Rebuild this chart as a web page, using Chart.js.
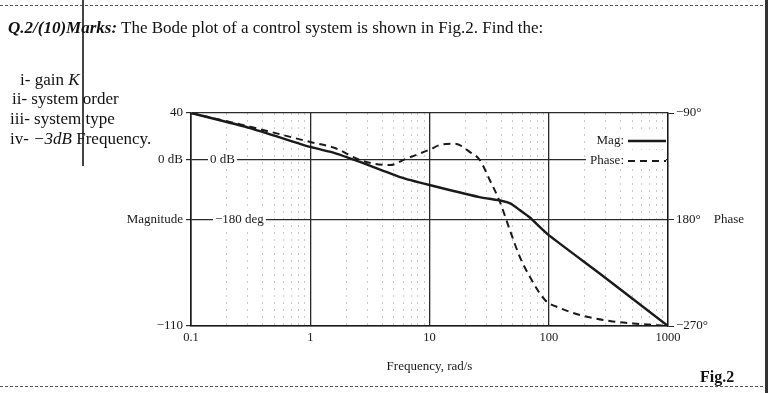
<!DOCTYPE html>
<html>
<head>
<meta charset="utf-8">
<script src="https://cdn.jsdelivr.net/npm/chart.js@4.4.1/dist/chart.umd.min.js"></script>
<style>
  html, body { margin: 0; padding: 0; background: #fff; }
  #page { position: relative; width: 773px; height: 393px; overflow: hidden;
          font-family: "Liberation Serif", "Times New Roman", serif; color: #111; }
  #chartBox { position: absolute; left: 0; top: 0; width: 773px; height: 393px; }
  .txt { position: absolute; white-space: nowrap; font-size: 17px; line-height: 1; }
  .rule { position: absolute; left: 0; width: 768px; border-top: 1px dashed #555; }
  .vline { position: absolute; background: #444; }
</style>
</head>
<body>
<div id="page">
  <div id="chartBox"><canvas id="bode"></canvas></div>

  <div class="rule" style="top:5px"></div>
  <div class="rule" style="top:386px"></div>
  <div class="vline" style="left:82px; top:0; width:1.5px; height:166px"></div>
  <div class="vline" style="left:765px; top:0; width:3px; height:393px; background:#333"></div>

  <div class="txt" style="left:8px; top:19px"><b><i>Q.2/(10)Marks:</i></b> The Bode plot of a control system is shown in Fig.2. Find the:</div>
  <div class="txt" style="left:20px; top:71px">i- gain <i>K</i></div>
  <div class="txt" style="left:12px; top:90px">ii- system order</div>
  <div class="txt" style="left:10px; top:110px">iii- system type</div>
  <div class="txt" style="left:10px; top:130px">iv- <i>&minus;3dB</i> Frequency.</div>
  <div class="txt" style="left:700px; top:369px; font-size:16px"><b>Fig.2</b></div>
</div>

<script>
// tick labels
const freqTicks = [0.1, 1, 10, 100, 1000];
const freqTickLabels = ['0.1', '1', '10', '100', '1000'];
const magTicks = [40, 7, -35, -110];
const magTickLabels = ['40', '0 dB', 'Magnitude', '\u2212110'];
const phaseTicks = [-90, -180, -270];
const phaseTickLabels = ['\u221290\u00b0', '180\u00b0    Phase', '\u2212270\u00b0'];

// magnitude curve (dB)
const magFreq = [0.1, 0.313, 1, 1.61, 2.61, 5.66, 10, 26.2, 40, 48, 57, 69.4, 100, 264, 1000];
const magDb = [40, 29.4, 16.1, 11.8, 5.5, -5.1, -10.7, -19.2, -21.8, -23.8, -28.3, -33.6, -46, -72.7, -110];

// phase curve (deg)
const phaseFreq = [0.1, 0.313, 1, 1.61, 2.61, 3.5, 4.67, 6.25, 10, 12.3, 16.4, 21.8, 26.4, 32, 38.9, 47.2, 57.3, 69.6, 93, 124, 183, 325, 580, 1000];
const phaseDeg = [-90, -101.6, -114.5, -119.6, -129.7, -133, -134, -129, -121, -117, -116, -123, -129.7, -146.6, -165, -189, -211.7, -228.6, -248, -254.8, -260.7, -265.8, -268.3, -270];

const INK = '#1a1a1a';
const FONT = '"Liberation Serif", "Times New Roman", serif';

const isDecade = v => Math.abs(Math.log10(v) - Math.round(Math.log10(v))) < 1e-6;

// inner labels on the grid lines + small legend box
const extras = {
    id: 'extras',
    beforeDatasetsDraw(chart) {
        const { ctx, chartArea, scales } = chart;
        ctx.save();
        ctx.font = '13px ' + FONT;
        ctx.textBaseline = 'middle';
        const items = [
            { text: '0 dB', x: chartArea.left + 19, y: scales.mag.getPixelForValue(magTicks[1]) },
            { text: '\u2212180 deg', x: chartArea.left + 24, y: scales.phase.getPixelForValue(phaseTicks[1]) }
        ];
        items.forEach(it => {
            const w = ctx.measureText(it.text).width;
            ctx.fillStyle = '#fff';
            ctx.fillRect(it.x - 2, it.y - 8, w + 4, 16);
            ctx.fillStyle = INK;
            ctx.fillText(it.text, it.x, it.y);
        });
        ctx.restore();
    },
    afterDatasetsDraw(chart) {
        const { ctx, chartArea } = chart;
        const right = chartArea.right - 2;
        ctx.save();
        ctx.font = '13px ' + FONT;
        ctx.textBaseline = 'middle';
        ctx.textAlign = 'right';
        chart.data.datasets.forEach((ds, i) => {
            const y = chartArea.top + 28 + i * 20;
            const text = ds.label + ':';
            const w = ctx.measureText(text).width;
            ctx.fillStyle = '#fff';
            ctx.fillRect(right - 42 - w - 4, y - 8, w + 46, 16);
            ctx.fillStyle = INK;
            ctx.fillText(text, right - 42, y);
            ctx.beginPath();
            ctx.setLineDash(ds.borderDash || []);
            ctx.lineWidth = ds.borderWidth;
            ctx.strokeStyle = ds.borderColor;
            ctx.moveTo(right - 38, y);
            ctx.lineTo(right, y);
            ctx.stroke();
        });
        ctx.restore();
    }
};

new Chart(document.getElementById('bode'), {
    type: 'line',
    data: {
        datasets: [{
            label: 'Mag',
            data: magFreq.map((f, i) => ({ x: f, y: magDb[i] })),
            yAxisID: 'mag',
            borderColor: INK,
            borderWidth: 2.4,
            pointRadius: 0,
            tension: 0.15
        }, {
            label: 'Phase',
            data: phaseFreq.map((f, i) => ({ x: f, y: phaseDeg[i] })),
            yAxisID: 'phase',
            borderColor: INK,
            borderWidth: 2,
            borderDash: [7, 5],
            pointRadius: 0,
            cubicInterpolationMode: 'monotone'
        }]
    },
    options: {
        responsive: true,
        maintainAspectRatio: false,
        animation: false,
        layout: { padding: { top: 113, left: 0, right: 0, bottom: 0 } },
        plugins: { legend: { display: false }, tooltip: { enabled: false } },
        scales: {
            x: {
                type: 'logarithmic',
                min: 0.1,
                max: 1000,
                afterFit: s => { s.height = 67; },
                afterBuildTicks: s => {
                    const t = [];
                    freqTicks.forEach((d, i) => {
                        t.push({ value: d });
                        if (i < freqTicks.length - 1) {
                            for (let k = 2; k <= 9; k++) t.push({ value: d * k });
                        }
                    });
                    s.ticks = t;
                },
                ticks: {
                    autoSkip: false,
                    maxRotation: 0,
                    padding: 4,
                    color: INK,
                    font: { family: FONT, size: 12.5 },
                    callback: v => {
                        const i = freqTicks.findIndex(d => Math.abs(d - v) < d * 1e-6);
                        return i >= 0 ? freqTickLabels[i] : '';
                    }
                },
                grid: {
                    drawTicks: false,
                    color: c => (c.tick && isDecade(c.tick.value)) ? '#2a2a2a' : '#c4c4c4',
                    lineWidth: c => (c.tick && isDecade(c.tick.value)) ? 1.3 : 0.9
                },
                border: {
                    color: INK,
                    width: 1.6,
                    dash: c => (c.tick && !isDecade(c.tick.value)) ? [2, 5] : []
                },
                title: {
                    display: true,
                    text: 'Frequency, rad/s',
                    color: INK,
                    font: { family: FONT, size: 13 },
                    padding: { top: 4, bottom: 19 }
                }
            },
            mag: {
                type: 'linear',
                position: 'left',
                min: -110,
                max: 40,
                afterFit: s => { s.width = 191; },
                afterBuildTicks: s => { s.ticks = magTicks.map(v => ({ value: v })); },
                ticks: {
                    padding: 3,
                    color: INK,
                    font: { family: FONT, size: 13 },
                    callback: (v, i) => magTickLabels[i]
                },
                grid: { color: '#2a2a2a', lineWidth: 1.2, tickLength: 5 },
                border: { color: INK, width: 1.6 }
            },
            phase: {
                type: 'linear',
                position: 'right',
                min: -270,
                max: -90,
                afterFit: s => { s.width = 105; },
                afterBuildTicks: s => { s.ticks = phaseTicks.map(v => ({ value: v })); },
                ticks: {
                    padding: 2,
                    color: INK,
                    font: { family: FONT, size: 13 },
                    callback: (v, i) => phaseTickLabels[i]
                },
                grid: { drawOnChartArea: false, color: '#2a2a2a', tickLength: 6 },
                border: { color: INK, width: 1.4 }
            }
        }
    },
    plugins: [extras]
});
</script>
</body>
</html>
